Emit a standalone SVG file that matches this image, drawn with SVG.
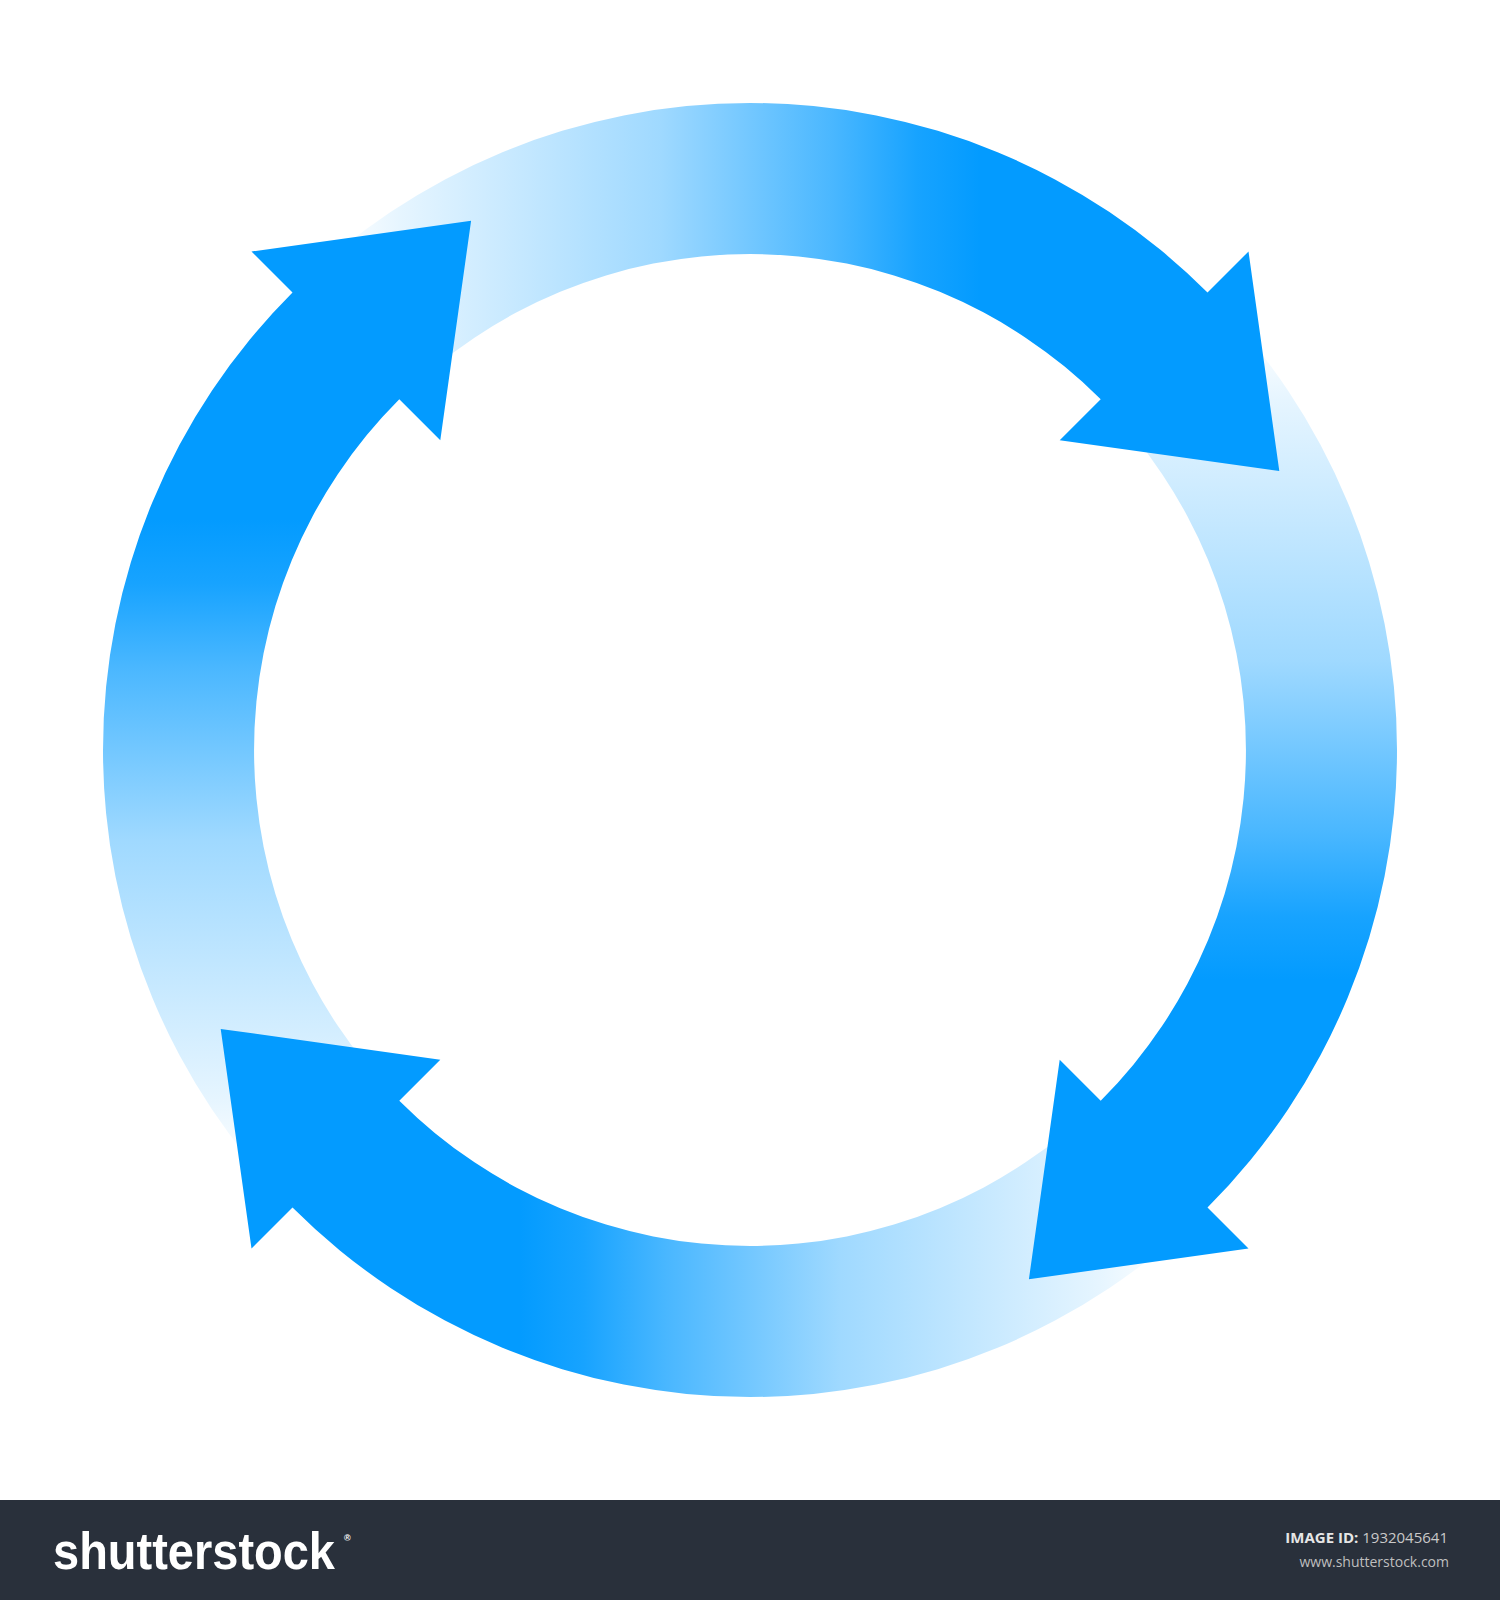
<svg xmlns="http://www.w3.org/2000/svg" xmlns:xlink="http://www.w3.org/1999/xlink" width="1500" height="1600" viewBox="0 0 1500 1600">
  <style>
    .logo { font-family: "Liberation Sans", Arial, sans-serif; font-weight: bold; fill: #ffffff; }
    .info { font-family: "Open Sans", "Liberation Sans", sans-serif; }
  </style>
  <defs>
    <linearGradient id="fade" gradientUnits="userSpaceOnUse" x1="330" y1="0" x2="980" y2="0">
      <stop offset="0" stop-color="#039BFF" stop-opacity="0"/>
      <stop offset="0.108" stop-color="#039BFF" stop-opacity="0.1"/>
      <stop offset="0.508" stop-color="#039BFF" stop-opacity="0.38"/>
      <stop offset="0.774" stop-color="#039BFF" stop-opacity="0.72"/>
      <stop offset="0.903" stop-color="#039BFF" stop-opacity="0.92"/>
      <stop offset="1" stop-color="#039BFF" stop-opacity="1"/>
    </linearGradient>
    <path id="arrow" fill="url(#fade)" d="M 292.5 292.5 A 647 647 0 0 1 1207.5 292.5 L 1248.5 251.5 L 1279.3 471.1 L 1059.7 440.3 L 1100.7 399.3 A 496 496 0 0 0 399.3 399.3 Z"/>
  </defs>
  <rect x="0" y="0" width="1500" height="1600" fill="#ffffff"/>
  <g id="connectors">
    <g id="arrow-top"><use xlink:href="#arrow" href="#arrow"/></g>
    <g id="arrow-right"><use xlink:href="#arrow" href="#arrow" transform="rotate(90 750 750)"/></g>
    <g id="arrow-bottom"><use xlink:href="#arrow" href="#arrow" transform="rotate(180 750 750)"/></g>
    <g id="arrow-left"><use xlink:href="#arrow" href="#arrow" transform="rotate(270 750 750)"/></g>
  </g>
  <g id="footer">
    <rect x="0" y="1500" width="1500" height="100" fill="#29303B"/>
    <text class="logo" x="53" y="1569" font-size="52"><tspan textLength="282" lengthAdjust="spacingAndGlyphs">shutterstock</tspan><tspan x="344" y="1541" font-size="9">®</tspan></text>
    <text class="info" x="1448" y="1543" font-size="15" text-anchor="end"><tspan font-weight="bold" fill="#E6E6E6">IMAGE ID:</tspan><tspan fill="#C9C9C9"> 1932045641</tspan></text>
    <text class="info" x="1449" y="1567" font-size="14" fill="#BFBFBF" text-anchor="end">www.shutterstock.com</text>
  </g>
</svg>
